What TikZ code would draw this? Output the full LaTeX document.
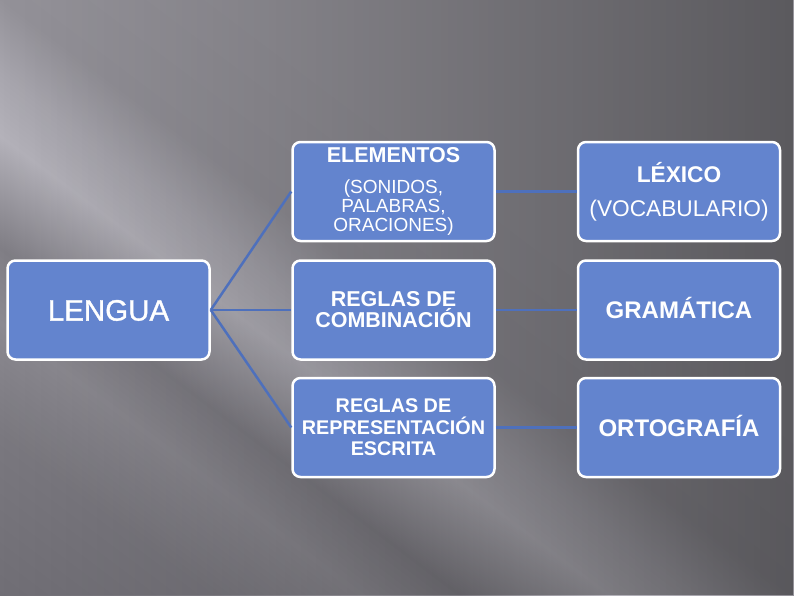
\documentclass[tikz,border=0pt]{standalone}
\usepackage{fontspec}
\setmainfont{Liberation Sans}
\newfontfamily\lenguafont[FakeBold=1.2]{Liberation Sans}
\usepackage{xcolor}
\usepackage{tikz}
\usetikzlibrary{positioning,fadings}

\definecolor{boxblue}{RGB}{99,132,206}
\definecolor{lineblue}{RGB}{78,112,188}
\definecolor{bga}{RGB}{112,110,117}
\definecolor{bgb}{RGB}{122,120,127}
\definecolor{bgc}{RGB}{140,138,145}
\definecolor{bgd}{RGB}{128,126,133}
\definecolor{bge}{RGB}{180,178,186}
\definecolor{bgf}{RGB}{168,166,174}
\definecolor{bgg}{RGB}{148,146,153}
\definecolor{bgh}{RGB}{152,150,157}
\definecolor{bgi}{RGB}{152,150,157}

\pgfdeclarehorizontalshading{streaks}{100bp}{color(0bp)=(bga); color(30bp)=(bga);
  color(35.4bp)=(bgb); color(39.2bp)=(bgc); color(41.7bp)=(bgd); color(45.4bp)=(bge);
  color(47.5bp)=(bgf); color(50bp)=(bgg); color(55.8bp)=(bgh); color(70bp)=(bgi);
  color(100bp)=(bgi)}
\tikzfading[name=fade right, left color=transparent!100, middle color=transparent!25,
  right color=transparent!0]

\begin{document}
\begin{tikzpicture}[
  x=1pt,y=-1pt,
  box/.style={rectangle,rounded corners=8pt,draw=white,line width=2.5pt,fill=boxblue,
    text=white,minimum width=202pt,minimum height=99pt,inner sep=0pt,align=center},
  link/.style={draw=lineblue,line width=2.5pt},
  big/.style={font=\bfseries\fontsize{24}{24}\selectfont,text height=17.2pt,text depth=0pt},
]

% fondo
\begin{scope}
  \clip (0,0) rectangle (794,595);
  \shade[shading=streaks,shading angle=53] (-203,-302.5) rectangle (997,897.5);
  \fill[black,opacity=0.4,path fading=fade right] (0,0) rectangle (794,595);
\end{scope}
\useasboundingbox (0,0) rectangle (794,595);

\node [box,font=\lenguafont\fontsize{29.5}{29.5}\selectfont,text height=21.2pt,text depth=0pt]
  (lengua) at (108.5,310) {LENGUA};

\node [box,font=\fontsize{19}{19}\selectfont] (elementos) at (393.5,191.5)
  {{\bfseries\fontsize{21.5}{19}\selectfont ELEMENTOS}\\[12pt]
   (SONIDOS,\\PALABRAS,\\ORACIONES)};
\node [box,font=\bfseries\fontsize{21.5}{21}\selectfont] (combinacion) at (393.5,310)
  {REGLAS DE\\COMBINACIÓN};
\node [box,font=\bfseries\fontsize{19.8}{21.5}\selectfont] (escrita) at (393.5,427.5)
  {REGLAS DE\\REPRESENTACIÓN\\ESCRITA};

\node [box,font=\fontsize{22.7}{22.7}\selectfont] (lexico) at (679,191.5)
  {{\bfseries LÉXICO}\\[11pt](VOCABULARIO)};
\node [box,big] (gramatica) at (679,310) {GRAMÁTICA};
\node [box,big] (ortografia) at (679,427.5) {ORTOGRAFÍA};

\draw[link] (lengua.east) -- (elementos.west);
\draw[link] (lengua.east) -- (combinacion.west);
\draw[link] (lengua.east) -- (escrita.west);
\draw[link] (elementos.east) -- (lexico.west);
\draw[link] (combinacion.east) -- (gramatica.west);
\draw[link] (escrita.east) -- (ortografia.west);
\end{tikzpicture}
\end{document}
